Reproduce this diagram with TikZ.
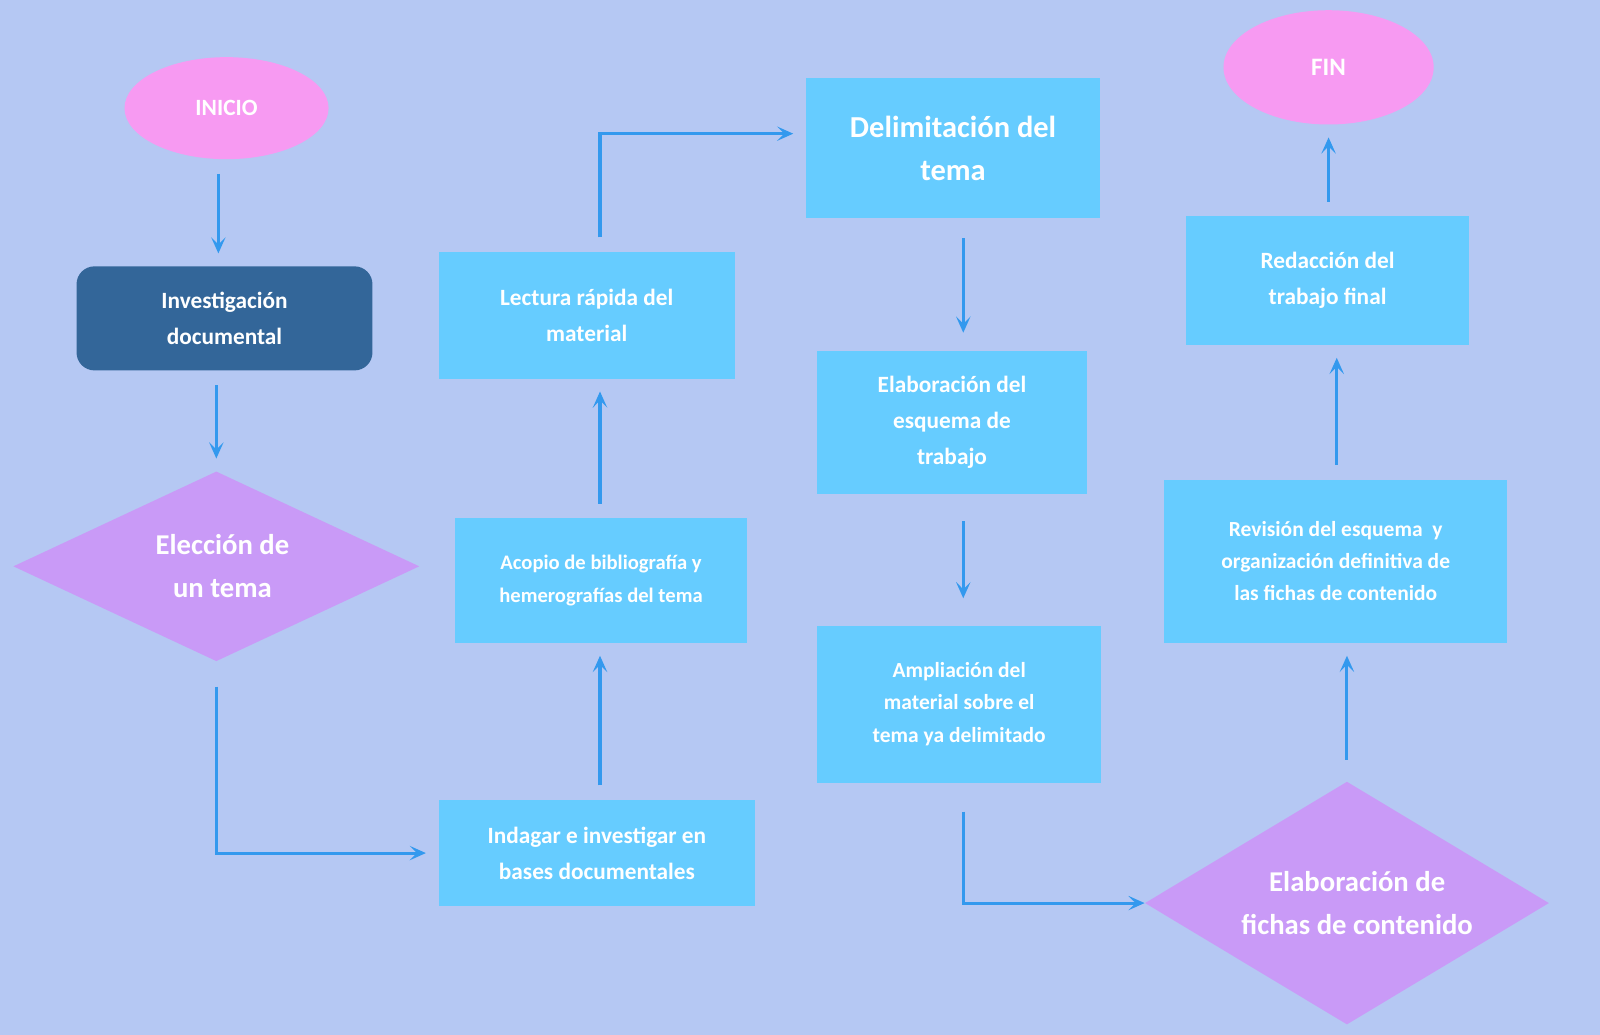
\documentclass[tikz,border=0pt]{standalone}
\usepackage{fontspec}
\setmainfont{Carlito}
\usetikzlibrary{shapes.geometric,arrows.meta}
\definecolor{bg}{HTML}{B5C8F3}
\definecolor{pinkc}{HTML}{F79AF2}
\definecolor{dark}{HTML}{336699}
\definecolor{lila}{HTML}{C99AF7}
\definecolor{box}{HTML}{66CCFF}
\definecolor{arr}{HTML}{3399EE}
\begin{document}
\begin{tikzpicture}[x=0.02cm,y=-0.02cm,
  txt/.style args={#1/#2}{text=white,font=\bfseries\fontsize{#1}{#2}\selectfont,align=center,inner sep=0pt},
  bx/.style={fill=box,draw=none,minimum width=#1*0.02cm},
  el/.style={ellipse,fill=pinkc,draw=none},
  dia/.style={diamond,fill=lila,draw=none,aspect=2},
  ar/.style={draw=arr,line width=1.7pt,-{Stealth[length=9pt,width=8pt,inset=4pt]},shorten >=7pt,shorten <=8pt}]
\fill[bg] (0,0) rectangle (1568,1014);
\useasboundingbox (0,0) rectangle (1568,1014);
\node[el,minimum width=200*0.02cm,minimum height=100*0.02cm,txt=13/20] (ini) at (222,106) {INICIO};
\node[fill=dark,rounded corners=10pt,minimum width=290*0.02cm,minimum height=102*0.02cm,txt=13/20] (inv) at (220,312) {Investigación\\documental};
\node[dia,minimum width=398*0.02cm,minimum height=186*0.02cm] (ele) at (212,555) {};
\node[txt=16/24] at (218,555) {Elección de\\un tema};
\node[bx=310,minimum height=104*0.02cm,txt=13/20] (ind) at (585,836) {Indagar e investigar en\\bases documentales};
\node[bx=286,minimum height=122*0.02cm,txt=11.5/18] (aco) at (589,569) {Acopio de bibliografía y\\hemerografías del tema};
\node[bx=290,minimum height=124*0.02cm,txt=13/20] (lec) at (575,309) {Lectura rápida del\\material};
\node[bx=288,minimum height=138*0.02cm,txt=17/24] (del) at (934,145) {Delimitación del\\tema};
\node[bx=264,minimum height=140*0.02cm,txt=13/20] (esq) at (933,414) {Elaboración del\\esquema de\\trabajo};
\node[bx=278,minimum height=154*0.02cm,txt=12/18] (amp) at (940,690) {Ampliación del\\material sobre el\\tema ya delimitado};
\node[dia,minimum width=396*0.02cm,minimum height=238*0.02cm] (fic) at (1320,885) {};
\node[txt=16/24] at (1330,885) {Elaboración de\\fichas de contenido};
\node[bx=336,minimum height=160*0.02cm,txt=12/18] (rev) at (1309,550) {Revisión del esquema\ \ y\\organización definitiva de\\las fichas de contenido};
\node[bx=278,minimum height=126*0.02cm,txt=13/20] (red) at (1301,275) {Redacción del\\trabajo final};
\node[el,minimum width=206*0.02cm,minimum height=112*0.02cm,txt=14/20] (fin) at (1302,66) {FIN};
\draw[ar] (ini.south -| 214,0) -- (inv.north -| 214,0);
\draw[ar] (inv.south -| 212,0) -- (ele.north -| 212,0);
\draw[ar,shorten <=14pt] (ele.south) |- (ind.west);
\draw[ar] (ind.north -| 588,0) -- (aco.south -| 588,0);
\draw[ar] (aco.north -| 588,0) -- (lec.south -| 588,0);
\draw[ar] (lec.north -| 588,0) |- (del.west |- 0,131);
\draw[ar,shorten >=10pt,shorten <=11pt] (del.south -| 944,0) -- (esq.north -| 944,0);
\draw[ar,shorten >=15pt,shorten <=15pt] (esq.south -| 944,0) -- (amp.north -| 944,0);
\draw[ar,shorten >=0pt,shorten <=16pt] (amp.south -| 944,0) |- (fic.west);
\draw[ar,shorten <=12pt] (fic.north) -- (rev.south -| 1320,0);
\draw[ar] (rev.north -| 1310,0) -- (red.south -| 1310,0);
\draw[ar] (red.north -| 1302,0) -- (fin.south);
\end{tikzpicture}
\end{document}
